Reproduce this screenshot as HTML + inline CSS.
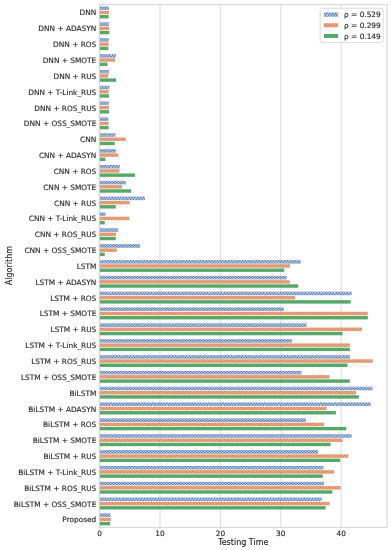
<!DOCTYPE html>
<html><head><meta charset="utf-8"><title>Testing Time</title>
<style>html,body{margin:0;padding:0;background:#fff}svg{display:block}text{stroke:#262626;stroke-width:0.13px;font-family:"DejaVu Sans","Liberation Sans",sans-serif;fill:#262626}</style></head><body>
<svg width="391" height="550" viewBox="0 0 391 550">
<defs>
<clipPath id="cb"><rect x="99.85" y="6.60" width="9.15" height="3.40"/><rect x="99.85" y="22.44" width="9.15" height="3.40"/><rect x="99.85" y="38.28" width="8.75" height="3.40"/><rect x="99.85" y="54.12" width="15.95" height="3.40"/><rect x="99.85" y="69.97" width="9.15" height="3.40"/><rect x="99.85" y="85.81" width="9.45" height="3.40"/><rect x="99.85" y="101.65" width="8.75" height="3.40"/><rect x="99.85" y="117.49" width="8.40" height="3.40"/><rect x="99.85" y="133.33" width="15.55" height="3.40"/><rect x="99.85" y="149.17" width="15.95" height="3.40"/><rect x="99.85" y="165.01" width="19.85" height="3.40"/><rect x="99.85" y="180.85" width="25.95" height="3.40"/><rect x="99.85" y="196.70" width="44.95" height="3.40"/><rect x="99.85" y="212.54" width="5.55" height="3.40"/><rect x="99.85" y="228.38" width="18.35" height="3.40"/><rect x="99.85" y="244.22" width="40.15" height="3.40"/><rect x="99.85" y="260.06" width="200.85" height="3.40"/><rect x="99.85" y="275.90" width="186.75" height="3.40"/><rect x="99.85" y="291.74" width="251.75" height="3.40"/><rect x="99.85" y="307.58" width="184.15" height="3.40"/><rect x="99.85" y="323.42" width="206.55" height="3.40"/><rect x="99.85" y="339.27" width="191.95" height="3.40"/><rect x="99.85" y="355.11" width="249.95" height="3.40"/><rect x="99.85" y="370.95" width="201.55" height="3.40"/><rect x="99.85" y="386.79" width="272.45" height="3.40"/><rect x="99.85" y="402.63" width="270.75" height="3.40"/><rect x="99.85" y="418.47" width="205.95" height="3.40"/><rect x="99.85" y="434.31" width="251.65" height="3.40"/><rect x="99.85" y="450.15" width="218.05" height="3.40"/><rect x="99.85" y="466.00" width="223.45" height="3.40"/><rect x="99.85" y="481.84" width="224.05" height="3.40"/><rect x="99.85" y="497.68" width="221.75" height="3.40"/><rect x="99.85" y="513.52" width="10.55" height="3.40"/></clipPath>
<clipPath id="co"><rect x="99.85" y="10.82" width="9.15" height="3.40"/><rect x="99.85" y="26.66" width="9.15" height="3.40"/><rect x="99.85" y="42.50" width="8.75" height="3.40"/><rect x="99.85" y="58.34" width="15.20" height="3.40"/><rect x="99.85" y="74.19" width="8.40" height="3.40"/><rect x="99.85" y="90.03" width="8.75" height="3.40"/><rect x="99.85" y="105.87" width="9.15" height="3.40"/><rect x="99.85" y="121.71" width="8.75" height="3.40"/><rect x="99.85" y="137.55" width="25.95" height="3.40"/><rect x="99.85" y="153.39" width="18.45" height="3.40"/><rect x="99.85" y="169.23" width="19.50" height="3.40"/><rect x="99.85" y="185.07" width="22.05" height="3.40"/><rect x="99.85" y="200.92" width="29.85" height="3.40"/><rect x="99.85" y="216.76" width="29.55" height="3.40"/><rect x="99.85" y="232.60" width="16.25" height="3.40"/><rect x="99.85" y="248.44" width="16.95" height="3.40"/><rect x="99.85" y="264.28" width="190.15" height="3.40"/><rect x="99.85" y="280.12" width="189.75" height="3.40"/><rect x="99.85" y="295.96" width="195.35" height="3.40"/><rect x="99.85" y="311.80" width="267.95" height="3.40"/><rect x="99.85" y="327.64" width="262.15" height="3.40"/><rect x="99.85" y="343.49" width="249.95" height="3.40"/><rect x="99.85" y="359.33" width="272.95" height="3.40"/><rect x="99.85" y="375.17" width="229.65" height="3.40"/><rect x="99.85" y="391.01" width="256.15" height="3.40"/><rect x="99.85" y="406.85" width="226.65" height="3.40"/><rect x="99.85" y="422.69" width="224.15" height="3.40"/><rect x="99.85" y="438.53" width="242.65" height="3.40"/><rect x="99.85" y="454.37" width="248.45" height="3.40"/><rect x="99.85" y="470.22" width="234.15" height="3.40"/><rect x="99.85" y="486.06" width="240.95" height="3.40"/><rect x="99.85" y="501.90" width="229.65" height="3.40"/><rect x="99.85" y="517.74" width="10.85" height="3.40"/></clipPath>
<clipPath id="lb"><rect x="324.00" y="12.65" width="14.10" height="4.00"/></clipPath>
<clipPath id="lo"><rect x="324.00" y="23.25" width="14.10" height="4.00"/></clipPath>
</defs>
<rect width="391" height="550" fill="#fff"/>
<line x1="99.60" y1="4.60" x2="99.60" y2="527.36" stroke="#cccccc" stroke-width="0.67"/>
<line x1="160.00" y1="4.60" x2="160.00" y2="527.36" stroke="#cccccc" stroke-width="0.67"/>
<line x1="220.40" y1="4.60" x2="220.40" y2="527.36" stroke="#cccccc" stroke-width="0.67"/>
<line x1="280.80" y1="4.60" x2="280.80" y2="527.36" stroke="#cccccc" stroke-width="0.67"/>
<line x1="341.20" y1="4.60" x2="341.20" y2="527.36" stroke="#cccccc" stroke-width="0.67"/>
<g fill="#4c72b0"><rect x="99.85" y="6.60" width="9.15" height="3.40"/><rect x="99.85" y="22.44" width="9.15" height="3.40"/><rect x="99.85" y="38.28" width="8.75" height="3.40"/><rect x="99.85" y="54.12" width="15.95" height="3.40"/><rect x="99.85" y="69.97" width="9.15" height="3.40"/><rect x="99.85" y="85.81" width="9.45" height="3.40"/><rect x="99.85" y="101.65" width="8.75" height="3.40"/><rect x="99.85" y="117.49" width="8.40" height="3.40"/><rect x="99.85" y="133.33" width="15.55" height="3.40"/><rect x="99.85" y="149.17" width="15.95" height="3.40"/><rect x="99.85" y="165.01" width="19.85" height="3.40"/><rect x="99.85" y="180.85" width="25.95" height="3.40"/><rect x="99.85" y="196.70" width="44.95" height="3.40"/><rect x="99.85" y="212.54" width="5.55" height="3.40"/><rect x="99.85" y="228.38" width="18.35" height="3.40"/><rect x="99.85" y="244.22" width="40.15" height="3.40"/><rect x="99.85" y="260.06" width="200.85" height="3.40"/><rect x="99.85" y="275.90" width="186.75" height="3.40"/><rect x="99.85" y="291.74" width="251.75" height="3.40"/><rect x="99.85" y="307.58" width="184.15" height="3.40"/><rect x="99.85" y="323.42" width="206.55" height="3.40"/><rect x="99.85" y="339.27" width="191.95" height="3.40"/><rect x="99.85" y="355.11" width="249.95" height="3.40"/><rect x="99.85" y="370.95" width="201.55" height="3.40"/><rect x="99.85" y="386.79" width="272.45" height="3.40"/><rect x="99.85" y="402.63" width="270.75" height="3.40"/><rect x="99.85" y="418.47" width="205.95" height="3.40"/><rect x="99.85" y="434.31" width="251.65" height="3.40"/><rect x="99.85" y="450.15" width="218.05" height="3.40"/><rect x="99.85" y="466.00" width="223.45" height="3.40"/><rect x="99.85" y="481.84" width="224.05" height="3.40"/><rect x="99.85" y="497.68" width="221.75" height="3.40"/><rect x="99.85" y="513.52" width="10.55" height="3.40"/></g>
<g fill="#dd8452"><rect x="99.85" y="10.82" width="9.15" height="3.40"/><rect x="99.85" y="26.66" width="9.15" height="3.40"/><rect x="99.85" y="42.50" width="8.75" height="3.40"/><rect x="99.85" y="58.34" width="15.20" height="3.40"/><rect x="99.85" y="74.19" width="8.40" height="3.40"/><rect x="99.85" y="90.03" width="8.75" height="3.40"/><rect x="99.85" y="105.87" width="9.15" height="3.40"/><rect x="99.85" y="121.71" width="8.75" height="3.40"/><rect x="99.85" y="137.55" width="25.95" height="3.40"/><rect x="99.85" y="153.39" width="18.45" height="3.40"/><rect x="99.85" y="169.23" width="19.50" height="3.40"/><rect x="99.85" y="185.07" width="22.05" height="3.40"/><rect x="99.85" y="200.92" width="29.85" height="3.40"/><rect x="99.85" y="216.76" width="29.55" height="3.40"/><rect x="99.85" y="232.60" width="16.25" height="3.40"/><rect x="99.85" y="248.44" width="16.95" height="3.40"/><rect x="99.85" y="264.28" width="190.15" height="3.40"/><rect x="99.85" y="280.12" width="189.75" height="3.40"/><rect x="99.85" y="295.96" width="195.35" height="3.40"/><rect x="99.85" y="311.80" width="267.95" height="3.40"/><rect x="99.85" y="327.64" width="262.15" height="3.40"/><rect x="99.85" y="343.49" width="249.95" height="3.40"/><rect x="99.85" y="359.33" width="272.95" height="3.40"/><rect x="99.85" y="375.17" width="229.65" height="3.40"/><rect x="99.85" y="391.01" width="256.15" height="3.40"/><rect x="99.85" y="406.85" width="226.65" height="3.40"/><rect x="99.85" y="422.69" width="224.15" height="3.40"/><rect x="99.85" y="438.53" width="242.65" height="3.40"/><rect x="99.85" y="454.37" width="248.45" height="3.40"/><rect x="99.85" y="470.22" width="234.15" height="3.40"/><rect x="99.85" y="486.06" width="240.95" height="3.40"/><rect x="99.85" y="501.90" width="229.65" height="3.40"/><rect x="99.85" y="517.74" width="10.85" height="3.40"/></g>
<g fill="#55a868"><rect x="99.85" y="15.04" width="8.75" height="3.40"/><rect x="99.85" y="30.88" width="9.45" height="3.40"/><rect x="99.85" y="46.72" width="8.40" height="3.40"/><rect x="99.85" y="62.56" width="7.65" height="3.40"/><rect x="99.85" y="78.41" width="16.25" height="3.40"/><rect x="99.85" y="94.25" width="9.15" height="3.40"/><rect x="99.85" y="110.09" width="9.15" height="3.40"/><rect x="99.85" y="125.93" width="8.75" height="3.40"/><rect x="99.85" y="141.77" width="14.85" height="3.40"/><rect x="99.85" y="157.61" width="5.55" height="3.40"/><rect x="99.85" y="173.45" width="35.25" height="3.40"/><rect x="99.85" y="189.29" width="31.35" height="3.40"/><rect x="99.85" y="205.14" width="15.95" height="3.40"/><rect x="99.85" y="220.98" width="4.85" height="3.40"/><rect x="99.85" y="236.82" width="15.95" height="3.40"/><rect x="99.85" y="252.66" width="4.85" height="3.40"/><rect x="99.85" y="268.50" width="184.35" height="3.40"/><rect x="99.85" y="284.34" width="198.45" height="3.40"/><rect x="99.85" y="300.18" width="250.85" height="3.40"/><rect x="99.85" y="316.02" width="267.95" height="3.40"/><rect x="99.85" y="331.86" width="242.65" height="3.40"/><rect x="99.85" y="347.71" width="249.95" height="3.40"/><rect x="99.85" y="363.55" width="247.65" height="3.40"/><rect x="99.85" y="379.39" width="249.95" height="3.40"/><rect x="99.85" y="395.23" width="258.95" height="3.40"/><rect x="99.85" y="411.07" width="236.05" height="3.40"/><rect x="99.85" y="426.91" width="246.35" height="3.40"/><rect x="99.85" y="442.75" width="230.75" height="3.40"/><rect x="99.85" y="458.59" width="240.35" height="3.40"/><rect x="99.85" y="474.44" width="222.95" height="3.40"/><rect x="99.85" y="490.28" width="232.45" height="3.40"/><rect x="99.85" y="506.12" width="225.75" height="3.40"/><rect x="99.85" y="521.96" width="10.25" height="3.40"/></g>
<g clip-path="url(#cb)"><path d="M-439.60 0.0L90.40 530.0M-436.80 0.0L93.20 530.0M-434.00 0.0L96.00 530.0M-431.20 0.0L98.80 530.0M-428.40 0.0L101.60 530.0M-425.60 0.0L104.40 530.0M-422.80 0.0L107.20 530.0M-420.00 0.0L110.00 530.0M-417.20 0.0L112.80 530.0M-414.40 0.0L115.60 530.0M-411.60 0.0L118.40 530.0M-408.80 0.0L121.20 530.0M-406.00 0.0L124.00 530.0M-403.20 0.0L126.80 530.0M-400.40 0.0L129.60 530.0M-397.60 0.0L132.40 530.0M-394.80 0.0L135.20 530.0M-392.00 0.0L138.00 530.0M-389.20 0.0L140.80 530.0M-386.40 0.0L143.60 530.0M-383.60 0.0L146.40 530.0M-380.80 0.0L149.20 530.0M-378.00 0.0L152.00 530.0M-375.20 0.0L154.80 530.0M-372.40 0.0L157.60 530.0M-369.60 0.0L160.40 530.0M-366.80 0.0L163.20 530.0M-364.00 0.0L166.00 530.0M-361.20 0.0L168.80 530.0M-358.40 0.0L171.60 530.0M-355.60 0.0L174.40 530.0M-352.80 0.0L177.20 530.0M-350.00 0.0L180.00 530.0M-347.20 0.0L182.80 530.0M-344.40 0.0L185.60 530.0M-341.60 0.0L188.40 530.0M-338.80 0.0L191.20 530.0M-336.00 0.0L194.00 530.0M-333.20 0.0L196.80 530.0M-330.40 0.0L199.60 530.0M-327.60 0.0L202.40 530.0M-324.80 0.0L205.20 530.0M-322.00 0.0L208.00 530.0M-319.20 0.0L210.80 530.0M-316.40 0.0L213.60 530.0M-313.60 0.0L216.40 530.0M-310.80 0.0L219.20 530.0M-308.00 0.0L222.00 530.0M-305.20 0.0L224.80 530.0M-302.40 0.0L227.60 530.0M-299.60 0.0L230.40 530.0M-296.80 0.0L233.20 530.0M-294.00 0.0L236.00 530.0M-291.20 0.0L238.80 530.0M-288.40 0.0L241.60 530.0M-285.60 0.0L244.40 530.0M-282.80 0.0L247.20 530.0M-280.00 0.0L250.00 530.0M-277.20 0.0L252.80 530.0M-274.40 0.0L255.60 530.0M-271.60 0.0L258.40 530.0M-268.80 0.0L261.20 530.0M-266.00 0.0L264.00 530.0M-263.20 0.0L266.80 530.0M-260.40 0.0L269.60 530.0M-257.60 0.0L272.40 530.0M-254.80 0.0L275.20 530.0M-252.00 0.0L278.00 530.0M-249.20 0.0L280.80 530.0M-246.40 0.0L283.60 530.0M-243.60 0.0L286.40 530.0M-240.80 0.0L289.20 530.0M-238.00 0.0L292.00 530.0M-235.20 0.0L294.80 530.0M-232.40 0.0L297.60 530.0M-229.60 0.0L300.40 530.0M-226.80 0.0L303.20 530.0M-224.00 0.0L306.00 530.0M-221.20 0.0L308.80 530.0M-218.40 0.0L311.60 530.0M-215.60 0.0L314.40 530.0M-212.80 0.0L317.20 530.0M-210.00 0.0L320.00 530.0M-207.20 0.0L322.80 530.0M-204.40 0.0L325.60 530.0M-201.60 0.0L328.40 530.0M-198.80 0.0L331.20 530.0M-196.00 0.0L334.00 530.0M-193.20 0.0L336.80 530.0M-190.40 0.0L339.60 530.0M-187.60 0.0L342.40 530.0M-184.80 0.0L345.20 530.0M-182.00 0.0L348.00 530.0M-179.20 0.0L350.80 530.0M-176.40 0.0L353.60 530.0M-173.60 0.0L356.40 530.0M-170.80 0.0L359.20 530.0M-168.00 0.0L362.00 530.0M-165.20 0.0L364.80 530.0M-162.40 0.0L367.60 530.0M-159.60 0.0L370.40 530.0M-156.80 0.0L373.20 530.0M-154.00 0.0L376.00 530.0M-151.20 0.0L378.80 530.0M-148.40 0.0L381.60 530.0M-145.60 0.0L384.40 530.0M-142.80 0.0L387.20 530.0M-140.00 0.0L390.00 530.0M-137.20 0.0L392.80 530.0M-134.40 0.0L395.60 530.0M-131.60 0.0L398.40 530.0M-128.80 0.0L401.20 530.0M-126.00 0.0L404.00 530.0M-123.20 0.0L406.80 530.0M-120.40 0.0L409.60 530.0M-117.60 0.0L412.40 530.0M-114.80 0.0L415.20 530.0M-112.00 0.0L418.00 530.0M-109.20 0.0L420.80 530.0M-106.40 0.0L423.60 530.0M-103.60 0.0L426.40 530.0M-100.80 0.0L429.20 530.0M-98.00 0.0L432.00 530.0M-95.20 0.0L434.80 530.0M-92.40 0.0L437.60 530.0M-89.60 0.0L440.40 530.0M-86.80 0.0L443.20 530.0M-84.00 0.0L446.00 530.0M-81.20 0.0L448.80 530.0M-78.40 0.0L451.60 530.0M-75.60 0.0L454.40 530.0M-72.80 0.0L457.20 530.0M-70.00 0.0L460.00 530.0M-67.20 0.0L462.80 530.0M-64.40 0.0L465.60 530.0M-61.60 0.0L468.40 530.0M-58.80 0.0L471.20 530.0M-56.00 0.0L474.00 530.0M-53.20 0.0L476.80 530.0M-50.40 0.0L479.60 530.0M-47.60 0.0L482.40 530.0M-44.80 0.0L485.20 530.0M-42.00 0.0L488.00 530.0M-39.20 0.0L490.80 530.0M-36.40 0.0L493.60 530.0M-33.60 0.0L496.40 530.0M-30.80 0.0L499.20 530.0M-28.00 0.0L502.00 530.0M-25.20 0.0L504.80 530.0M-22.40 0.0L507.60 530.0M-19.60 0.0L510.40 530.0M-16.80 0.0L513.20 530.0M-14.00 0.0L516.00 530.0M-11.20 0.0L518.80 530.0M-8.40 0.0L521.60 530.0M-5.60 0.0L524.40 530.0M-2.80 0.0L527.20 530.0M0.00 0.0L530.00 530.0M2.80 0.0L532.80 530.0M5.60 0.0L535.60 530.0M8.40 0.0L538.40 530.0M11.20 0.0L541.20 530.0M14.00 0.0L544.00 530.0M16.80 0.0L546.80 530.0M19.60 0.0L549.60 530.0M22.40 0.0L552.40 530.0M25.20 0.0L555.20 530.0M28.00 0.0L558.00 530.0M30.80 0.0L560.80 530.0M33.60 0.0L563.60 530.0M36.40 0.0L566.40 530.0M39.20 0.0L569.20 530.0M42.00 0.0L572.00 530.0M44.80 0.0L574.80 530.0M47.60 0.0L577.60 530.0M50.40 0.0L580.40 530.0M53.20 0.0L583.20 530.0M56.00 0.0L586.00 530.0M58.80 0.0L588.80 530.0M61.60 0.0L591.60 530.0M64.40 0.0L594.40 530.0M67.20 0.0L597.20 530.0M70.00 0.0L600.00 530.0M72.80 0.0L602.80 530.0M75.60 0.0L605.60 530.0M78.40 0.0L608.40 530.0M81.20 0.0L611.20 530.0M84.00 0.0L614.00 530.0M86.80 0.0L616.80 530.0M89.60 0.0L619.60 530.0M92.40 0.0L622.40 530.0M95.20 0.0L625.20 530.0M98.00 0.0L628.00 530.0M100.80 0.0L630.80 530.0M103.60 0.0L633.60 530.0M106.40 0.0L636.40 530.0M109.20 0.0L639.20 530.0M112.00 0.0L642.00 530.0M114.80 0.0L644.80 530.0M117.60 0.0L647.60 530.0M120.40 0.0L650.40 530.0M123.20 0.0L653.20 530.0M126.00 0.0L656.00 530.0M128.80 0.0L658.80 530.0M131.60 0.0L661.60 530.0M134.40 0.0L664.40 530.0M137.20 0.0L667.20 530.0M140.00 0.0L670.00 530.0M142.80 0.0L672.80 530.0M145.60 0.0L675.60 530.0M148.40 0.0L678.40 530.0M151.20 0.0L681.20 530.0M154.00 0.0L684.00 530.0M156.80 0.0L686.80 530.0M159.60 0.0L689.60 530.0M162.40 0.0L692.40 530.0M165.20 0.0L695.20 530.0M168.00 0.0L698.00 530.0M170.80 0.0L700.80 530.0M173.60 0.0L703.60 530.0M176.40 0.0L706.40 530.0M179.20 0.0L709.20 530.0M182.00 0.0L712.00 530.0M184.80 0.0L714.80 530.0M187.60 0.0L717.60 530.0M190.40 0.0L720.40 530.0M193.20 0.0L723.20 530.0M196.00 0.0L726.00 530.0M198.80 0.0L728.80 530.0M201.60 0.0L731.60 530.0M204.40 0.0L734.40 530.0M207.20 0.0L737.20 530.0M210.00 0.0L740.00 530.0M212.80 0.0L742.80 530.0M215.60 0.0L745.60 530.0M218.40 0.0L748.40 530.0M221.20 0.0L751.20 530.0M224.00 0.0L754.00 530.0M226.80 0.0L756.80 530.0M229.60 0.0L759.60 530.0M232.40 0.0L762.40 530.0M235.20 0.0L765.20 530.0M238.00 0.0L768.00 530.0M240.80 0.0L770.80 530.0M243.60 0.0L773.60 530.0M246.40 0.0L776.40 530.0M249.20 0.0L779.20 530.0M252.00 0.0L782.00 530.0M254.80 0.0L784.80 530.0M257.60 0.0L787.60 530.0M260.40 0.0L790.40 530.0M263.20 0.0L793.20 530.0M266.00 0.0L796.00 530.0M268.80 0.0L798.80 530.0M271.60 0.0L801.60 530.0M274.40 0.0L804.40 530.0M277.20 0.0L807.20 530.0M280.00 0.0L810.00 530.0M282.80 0.0L812.80 530.0M285.60 0.0L815.60 530.0M288.40 0.0L818.40 530.0M291.20 0.0L821.20 530.0M294.00 0.0L824.00 530.0M296.80 0.0L826.80 530.0M299.60 0.0L829.60 530.0M302.40 0.0L832.40 530.0M305.20 0.0L835.20 530.0M308.00 0.0L838.00 530.0M310.80 0.0L840.80 530.0M313.60 0.0L843.60 530.0M316.40 0.0L846.40 530.0M319.20 0.0L849.20 530.0M322.00 0.0L852.00 530.0M324.80 0.0L854.80 530.0M327.60 0.0L857.60 530.0M330.40 0.0L860.40 530.0M333.20 0.0L863.20 530.0M336.00 0.0L866.00 530.0M338.80 0.0L868.80 530.0M341.60 0.0L871.60 530.0M344.40 0.0L874.40 530.0M347.20 0.0L877.20 530.0M350.00 0.0L880.00 530.0M352.80 0.0L882.80 530.0M355.60 0.0L885.60 530.0M358.40 0.0L888.40 530.0M361.20 0.0L891.20 530.0M364.00 0.0L894.00 530.0M366.80 0.0L896.80 530.0M369.60 0.0L899.60 530.0M372.40 0.0L902.40 530.0M375.20 0.0L905.20 530.0M378.00 0.0L908.00 530.0M380.80 0.0L910.80 530.0M383.60 0.0L913.60 530.0M386.40 0.0L916.40 530.0M389.20 0.0L919.20 530.0M392.00 0.0L922.00 530.0M394.80 0.0L924.80 530.0M397.60 0.0L927.60 530.0M400.40 0.0L930.40 530.0M403.20 0.0L933.20 530.0M406.00 0.0L936.00 530.0M408.80 0.0L938.80 530.0M411.60 0.0L941.60 530.0M414.40 0.0L944.40 530.0M417.20 0.0L947.20 530.0M420.00 0.0L950.00 530.0M422.80 0.0L952.80 530.0M425.60 0.0L955.60 530.0M428.40 0.0L958.40 530.0M431.20 0.0L961.20 530.0M434.00 0.0L964.00 530.0M436.80 0.0L966.80 530.0M439.60 0.0L969.60 530.0M442.40 0.0L972.40 530.0M445.20 0.0L975.20 530.0M448.00 0.0L978.00 530.0M450.80 0.0L980.80 530.0M453.60 0.0L983.60 530.0M456.40 0.0L986.40 530.0M459.20 0.0L989.20 530.0M462.00 0.0L992.00 530.0M464.80 0.0L994.80 530.0M467.60 0.0L997.60 530.0M470.40 0.0L1000.40 530.0M473.20 0.0L1003.20 530.0M476.00 0.0L1006.00 530.0M478.80 0.0L1008.80 530.0M481.60 0.0L1011.60 530.0M484.40 0.0L1014.40 530.0M487.20 0.0L1017.20 530.0M490.00 0.0L1020.00 530.0M492.80 0.0L1022.80 530.0M495.60 0.0L1025.60 530.0M498.40 0.0L1028.40 530.0M501.20 0.0L1031.20 530.0M504.00 0.0L1034.00 530.0M506.80 0.0L1036.80 530.0M509.60 0.0L1039.60 530.0M512.40 0.0L1042.40 530.0M515.20 0.0L1045.20 530.0M518.00 0.0L1048.00 530.0M520.80 0.0L1050.80 530.0M523.60 0.0L1053.60 530.0M526.40 0.0L1056.40 530.0M529.20 0.0L1059.20 530.0M532.00 0.0L1062.00 530.0M534.80 0.0L1064.80 530.0M537.60 0.0L1067.60 530.0M540.40 0.0L1070.40 530.0M543.20 0.0L1073.20 530.0M546.00 0.0L1076.00 530.0M548.80 0.0L1078.80 530.0M551.60 0.0L1081.60 530.0M554.40 0.0L1084.40 530.0M557.20 0.0L1087.20 530.0M560.00 0.0L1090.00 530.0M562.80 0.0L1092.80 530.0M565.60 0.0L1095.60 530.0M568.40 0.0L1098.40 530.0M571.20 0.0L1101.20 530.0M574.00 0.0L1104.00 530.0M576.80 0.0L1106.80 530.0M579.60 0.0L1109.60 530.0M582.40 0.0L1112.40 530.0M585.20 0.0L1115.20 530.0M588.00 0.0L1118.00 530.0M590.80 0.0L1120.80 530.0M593.60 0.0L1123.60 530.0M596.40 0.0L1126.40 530.0M599.20 0.0L1129.20 530.0M602.00 0.0L1132.00 530.0M604.80 0.0L1134.80 530.0M607.60 0.0L1137.60 530.0M610.40 0.0L1140.40 530.0M613.20 0.0L1143.20 530.0M616.00 0.0L1146.00 530.0M618.80 0.0L1148.80 530.0M621.60 0.0L1151.60 530.0M624.40 0.0L1154.40 530.0M627.20 0.0L1157.20 530.0M630.00 0.0L1160.00 530.0M632.80 0.0L1162.80 530.0M635.60 0.0L1165.60 530.0M638.40 0.0L1168.40 530.0M641.20 0.0L1171.20 530.0M644.00 0.0L1174.00 530.0M646.80 0.0L1176.80 530.0M649.60 0.0L1179.60 530.0M652.40 0.0L1182.40 530.0M655.20 0.0L1185.20 530.0M658.00 0.0L1188.00 530.0M660.80 0.0L1190.80 530.0M663.60 0.0L1193.60 530.0M666.40 0.0L1196.40 530.0M669.20 0.0L1199.20 530.0M672.00 0.0L1202.00 530.0M674.80 0.0L1204.80 530.0M677.60 0.0L1207.60 530.0M680.40 0.0L1210.40 530.0M683.20 0.0L1213.20 530.0M686.00 0.0L1216.00 530.0M688.80 0.0L1218.80 530.0M691.60 0.0L1221.60 530.0M694.40 0.0L1224.40 530.0M697.20 0.0L1227.20 530.0M700.00 0.0L1230.00 530.0M702.80 0.0L1232.80 530.0M705.60 0.0L1235.60 530.0M708.40 0.0L1238.40 530.0M711.20 0.0L1241.20 530.0M714.00 0.0L1244.00 530.0M716.80 0.0L1246.80 530.0M719.60 0.0L1249.60 530.0M722.40 0.0L1252.40 530.0M725.20 0.0L1255.20 530.0M728.00 0.0L1258.00 530.0M730.80 0.0L1260.80 530.0M733.60 0.0L1263.60 530.0M736.40 0.0L1266.40 530.0M739.20 0.0L1269.20 530.0M742.00 0.0L1272.00 530.0M744.80 0.0L1274.80 530.0M747.60 0.0L1277.60 530.0M750.40 0.0L1280.40 530.0M753.20 0.0L1283.20 530.0M756.00 0.0L1286.00 530.0M758.80 0.0L1288.80 530.0M761.60 0.0L1291.60 530.0M764.40 0.0L1294.40 530.0M767.20 0.0L1297.20 530.0M770.00 0.0L1300.00 530.0M772.80 0.0L1302.80 530.0M775.60 0.0L1305.60 530.0M778.40 0.0L1308.40 530.0M781.20 0.0L1311.20 530.0M784.00 0.0L1314.00 530.0M786.80 0.0L1316.80 530.0M789.60 0.0L1319.60 530.0M792.40 0.0L1322.40 530.0M795.20 0.0L1325.20 530.0M798.00 0.0L1328.00 530.0M800.80 0.0L1330.80 530.0M803.60 0.0L1333.60 530.0M806.40 0.0L1336.40 530.0M809.20 0.0L1339.20 530.0M812.00 0.0L1342.00 530.0M814.80 0.0L1344.80 530.0M817.60 0.0L1347.60 530.0M820.40 0.0L1350.40 530.0M823.20 0.0L1353.20 530.0M826.00 0.0L1356.00 530.0M828.80 0.0L1358.80 530.0M831.60 0.0L1361.60 530.0M834.40 0.0L1364.40 530.0M837.20 0.0L1367.20 530.0M840.00 0.0L1370.00 530.0M842.80 0.0L1372.80 530.0M845.60 0.0L1375.60 530.0M848.40 0.0L1378.40 530.0M851.20 0.0L1381.20 530.0M854.00 0.0L1384.00 530.0M856.80 0.0L1386.80 530.0M859.60 0.0L1389.60 530.0M862.40 0.0L1392.40 530.0M865.20 0.0L1395.20 530.0M868.00 0.0L1398.00 530.0M870.80 0.0L1400.80 530.0M873.60 0.0L1403.60 530.0M876.40 0.0L1406.40 530.0M879.20 0.0L1409.20 530.0M882.00 0.0L1412.00 530.0M884.80 0.0L1414.80 530.0M887.60 0.0L1417.60 530.0M890.40 0.0L1420.40 530.0M893.20 0.0L1423.20 530.0M896.00 0.0L1426.00 530.0M898.80 0.0L1428.80 530.0M901.60 0.0L1431.60 530.0M904.40 0.0L1434.40 530.0M907.20 0.0L1437.20 530.0M910.00 0.0L1440.00 530.0M912.80 0.0L1442.80 530.0M915.60 0.0L1445.60 530.0M918.40 0.0L1448.40 530.0M921.20 0.0L1451.20 530.0M924.00 0.0L1454.00 530.0M-439.60 530.0L90.40 0.0M-436.80 530.0L93.20 0.0M-434.00 530.0L96.00 0.0M-431.20 530.0L98.80 0.0M-428.40 530.0L101.60 0.0M-425.60 530.0L104.40 0.0M-422.80 530.0L107.20 0.0M-420.00 530.0L110.00 0.0M-417.20 530.0L112.80 0.0M-414.40 530.0L115.60 0.0M-411.60 530.0L118.40 0.0M-408.80 530.0L121.20 0.0M-406.00 530.0L124.00 0.0M-403.20 530.0L126.80 0.0M-400.40 530.0L129.60 0.0M-397.60 530.0L132.40 0.0M-394.80 530.0L135.20 0.0M-392.00 530.0L138.00 0.0M-389.20 530.0L140.80 0.0M-386.40 530.0L143.60 0.0M-383.60 530.0L146.40 0.0M-380.80 530.0L149.20 0.0M-378.00 530.0L152.00 0.0M-375.20 530.0L154.80 0.0M-372.40 530.0L157.60 0.0M-369.60 530.0L160.40 0.0M-366.80 530.0L163.20 0.0M-364.00 530.0L166.00 0.0M-361.20 530.0L168.80 0.0M-358.40 530.0L171.60 0.0M-355.60 530.0L174.40 0.0M-352.80 530.0L177.20 0.0M-350.00 530.0L180.00 0.0M-347.20 530.0L182.80 0.0M-344.40 530.0L185.60 0.0M-341.60 530.0L188.40 0.0M-338.80 530.0L191.20 0.0M-336.00 530.0L194.00 0.0M-333.20 530.0L196.80 0.0M-330.40 530.0L199.60 0.0M-327.60 530.0L202.40 0.0M-324.80 530.0L205.20 0.0M-322.00 530.0L208.00 0.0M-319.20 530.0L210.80 0.0M-316.40 530.0L213.60 0.0M-313.60 530.0L216.40 0.0M-310.80 530.0L219.20 0.0M-308.00 530.0L222.00 0.0M-305.20 530.0L224.80 0.0M-302.40 530.0L227.60 0.0M-299.60 530.0L230.40 0.0M-296.80 530.0L233.20 0.0M-294.00 530.0L236.00 0.0M-291.20 530.0L238.80 0.0M-288.40 530.0L241.60 0.0M-285.60 530.0L244.40 0.0M-282.80 530.0L247.20 0.0M-280.00 530.0L250.00 0.0M-277.20 530.0L252.80 0.0M-274.40 530.0L255.60 0.0M-271.60 530.0L258.40 0.0M-268.80 530.0L261.20 0.0M-266.00 530.0L264.00 0.0M-263.20 530.0L266.80 0.0M-260.40 530.0L269.60 0.0M-257.60 530.0L272.40 0.0M-254.80 530.0L275.20 0.0M-252.00 530.0L278.00 0.0M-249.20 530.0L280.80 0.0M-246.40 530.0L283.60 0.0M-243.60 530.0L286.40 0.0M-240.80 530.0L289.20 0.0M-238.00 530.0L292.00 0.0M-235.20 530.0L294.80 0.0M-232.40 530.0L297.60 0.0M-229.60 530.0L300.40 0.0M-226.80 530.0L303.20 0.0M-224.00 530.0L306.00 0.0M-221.20 530.0L308.80 0.0M-218.40 530.0L311.60 0.0M-215.60 530.0L314.40 0.0M-212.80 530.0L317.20 0.0M-210.00 530.0L320.00 0.0M-207.20 530.0L322.80 0.0M-204.40 530.0L325.60 0.0M-201.60 530.0L328.40 0.0M-198.80 530.0L331.20 0.0M-196.00 530.0L334.00 0.0M-193.20 530.0L336.80 0.0M-190.40 530.0L339.60 0.0M-187.60 530.0L342.40 0.0M-184.80 530.0L345.20 0.0M-182.00 530.0L348.00 0.0M-179.20 530.0L350.80 0.0M-176.40 530.0L353.60 0.0M-173.60 530.0L356.40 0.0M-170.80 530.0L359.20 0.0M-168.00 530.0L362.00 0.0M-165.20 530.0L364.80 0.0M-162.40 530.0L367.60 0.0M-159.60 530.0L370.40 0.0M-156.80 530.0L373.20 0.0M-154.00 530.0L376.00 0.0M-151.20 530.0L378.80 0.0M-148.40 530.0L381.60 0.0M-145.60 530.0L384.40 0.0M-142.80 530.0L387.20 0.0M-140.00 530.0L390.00 0.0M-137.20 530.0L392.80 0.0M-134.40 530.0L395.60 0.0M-131.60 530.0L398.40 0.0M-128.80 530.0L401.20 0.0M-126.00 530.0L404.00 0.0M-123.20 530.0L406.80 0.0M-120.40 530.0L409.60 0.0M-117.60 530.0L412.40 0.0M-114.80 530.0L415.20 0.0M-112.00 530.0L418.00 0.0M-109.20 530.0L420.80 0.0M-106.40 530.0L423.60 0.0M-103.60 530.0L426.40 0.0M-100.80 530.0L429.20 0.0M-98.00 530.0L432.00 0.0M-95.20 530.0L434.80 0.0M-92.40 530.0L437.60 0.0M-89.60 530.0L440.40 0.0M-86.80 530.0L443.20 0.0M-84.00 530.0L446.00 0.0M-81.20 530.0L448.80 0.0M-78.40 530.0L451.60 0.0M-75.60 530.0L454.40 0.0M-72.80 530.0L457.20 0.0M-70.00 530.0L460.00 0.0M-67.20 530.0L462.80 0.0M-64.40 530.0L465.60 0.0M-61.60 530.0L468.40 0.0M-58.80 530.0L471.20 0.0M-56.00 530.0L474.00 0.0M-53.20 530.0L476.80 0.0M-50.40 530.0L479.60 0.0M-47.60 530.0L482.40 0.0M-44.80 530.0L485.20 0.0M-42.00 530.0L488.00 0.0M-39.20 530.0L490.80 0.0M-36.40 530.0L493.60 0.0M-33.60 530.0L496.40 0.0M-30.80 530.0L499.20 0.0M-28.00 530.0L502.00 0.0M-25.20 530.0L504.80 0.0M-22.40 530.0L507.60 0.0M-19.60 530.0L510.40 0.0M-16.80 530.0L513.20 0.0M-14.00 530.0L516.00 0.0M-11.20 530.0L518.80 0.0M-8.40 530.0L521.60 0.0M-5.60 530.0L524.40 0.0M-2.80 530.0L527.20 0.0M0.00 530.0L530.00 0.0M2.80 530.0L532.80 0.0M5.60 530.0L535.60 0.0M8.40 530.0L538.40 0.0M11.20 530.0L541.20 0.0M14.00 530.0L544.00 0.0M16.80 530.0L546.80 0.0M19.60 530.0L549.60 0.0M22.40 530.0L552.40 0.0M25.20 530.0L555.20 0.0M28.00 530.0L558.00 0.0M30.80 530.0L560.80 0.0M33.60 530.0L563.60 0.0M36.40 530.0L566.40 0.0M39.20 530.0L569.20 0.0M42.00 530.0L572.00 0.0M44.80 530.0L574.80 0.0M47.60 530.0L577.60 0.0M50.40 530.0L580.40 0.0M53.20 530.0L583.20 0.0M56.00 530.0L586.00 0.0M58.80 530.0L588.80 0.0M61.60 530.0L591.60 0.0M64.40 530.0L594.40 0.0M67.20 530.0L597.20 0.0M70.00 530.0L600.00 0.0M72.80 530.0L602.80 0.0M75.60 530.0L605.60 0.0M78.40 530.0L608.40 0.0M81.20 530.0L611.20 0.0M84.00 530.0L614.00 0.0M86.80 530.0L616.80 0.0M89.60 530.0L619.60 0.0M92.40 530.0L622.40 0.0M95.20 530.0L625.20 0.0M98.00 530.0L628.00 0.0M100.80 530.0L630.80 0.0M103.60 530.0L633.60 0.0M106.40 530.0L636.40 0.0M109.20 530.0L639.20 0.0M112.00 530.0L642.00 0.0M114.80 530.0L644.80 0.0M117.60 530.0L647.60 0.0M120.40 530.0L650.40 0.0M123.20 530.0L653.20 0.0M126.00 530.0L656.00 0.0M128.80 530.0L658.80 0.0M131.60 530.0L661.60 0.0M134.40 530.0L664.40 0.0M137.20 530.0L667.20 0.0M140.00 530.0L670.00 0.0M142.80 530.0L672.80 0.0M145.60 530.0L675.60 0.0M148.40 530.0L678.40 0.0M151.20 530.0L681.20 0.0M154.00 530.0L684.00 0.0M156.80 530.0L686.80 0.0M159.60 530.0L689.60 0.0M162.40 530.0L692.40 0.0M165.20 530.0L695.20 0.0M168.00 530.0L698.00 0.0M170.80 530.0L700.80 0.0M173.60 530.0L703.60 0.0M176.40 530.0L706.40 0.0M179.20 530.0L709.20 0.0M182.00 530.0L712.00 0.0M184.80 530.0L714.80 0.0M187.60 530.0L717.60 0.0M190.40 530.0L720.40 0.0M193.20 530.0L723.20 0.0M196.00 530.0L726.00 0.0M198.80 530.0L728.80 0.0M201.60 530.0L731.60 0.0M204.40 530.0L734.40 0.0M207.20 530.0L737.20 0.0M210.00 530.0L740.00 0.0M212.80 530.0L742.80 0.0M215.60 530.0L745.60 0.0M218.40 530.0L748.40 0.0M221.20 530.0L751.20 0.0M224.00 530.0L754.00 0.0M226.80 530.0L756.80 0.0M229.60 530.0L759.60 0.0M232.40 530.0L762.40 0.0M235.20 530.0L765.20 0.0M238.00 530.0L768.00 0.0M240.80 530.0L770.80 0.0M243.60 530.0L773.60 0.0M246.40 530.0L776.40 0.0M249.20 530.0L779.20 0.0M252.00 530.0L782.00 0.0M254.80 530.0L784.80 0.0M257.60 530.0L787.60 0.0M260.40 530.0L790.40 0.0M263.20 530.0L793.20 0.0M266.00 530.0L796.00 0.0M268.80 530.0L798.80 0.0M271.60 530.0L801.60 0.0M274.40 530.0L804.40 0.0M277.20 530.0L807.20 0.0M280.00 530.0L810.00 0.0M282.80 530.0L812.80 0.0M285.60 530.0L815.60 0.0M288.40 530.0L818.40 0.0M291.20 530.0L821.20 0.0M294.00 530.0L824.00 0.0M296.80 530.0L826.80 0.0M299.60 530.0L829.60 0.0M302.40 530.0L832.40 0.0M305.20 530.0L835.20 0.0M308.00 530.0L838.00 0.0M310.80 530.0L840.80 0.0M313.60 530.0L843.60 0.0M316.40 530.0L846.40 0.0M319.20 530.0L849.20 0.0M322.00 530.0L852.00 0.0M324.80 530.0L854.80 0.0M327.60 530.0L857.60 0.0M330.40 530.0L860.40 0.0M333.20 530.0L863.20 0.0M336.00 530.0L866.00 0.0M338.80 530.0L868.80 0.0M341.60 530.0L871.60 0.0M344.40 530.0L874.40 0.0M347.20 530.0L877.20 0.0M350.00 530.0L880.00 0.0M352.80 530.0L882.80 0.0M355.60 530.0L885.60 0.0M358.40 530.0L888.40 0.0M361.20 530.0L891.20 0.0M364.00 530.0L894.00 0.0M366.80 530.0L896.80 0.0M369.60 530.0L899.60 0.0M372.40 530.0L902.40 0.0M375.20 530.0L905.20 0.0M378.00 530.0L908.00 0.0M380.80 530.0L910.80 0.0M383.60 530.0L913.60 0.0M386.40 530.0L916.40 0.0M389.20 530.0L919.20 0.0M392.00 530.0L922.00 0.0M394.80 530.0L924.80 0.0M397.60 530.0L927.60 0.0M400.40 530.0L930.40 0.0M403.20 530.0L933.20 0.0M406.00 530.0L936.00 0.0M408.80 530.0L938.80 0.0M411.60 530.0L941.60 0.0M414.40 530.0L944.40 0.0M417.20 530.0L947.20 0.0M420.00 530.0L950.00 0.0M422.80 530.0L952.80 0.0M425.60 530.0L955.60 0.0M428.40 530.0L958.40 0.0M431.20 530.0L961.20 0.0M434.00 530.0L964.00 0.0M436.80 530.0L966.80 0.0M439.60 530.0L969.60 0.0M442.40 530.0L972.40 0.0M445.20 530.0L975.20 0.0M448.00 530.0L978.00 0.0M450.80 530.0L980.80 0.0M453.60 530.0L983.60 0.0M456.40 530.0L986.40 0.0M459.20 530.0L989.20 0.0M462.00 530.0L992.00 0.0M464.80 530.0L994.80 0.0M467.60 530.0L997.60 0.0M470.40 530.0L1000.40 0.0M473.20 530.0L1003.20 0.0M476.00 530.0L1006.00 0.0M478.80 530.0L1008.80 0.0M481.60 530.0L1011.60 0.0M484.40 530.0L1014.40 0.0M487.20 530.0L1017.20 0.0M490.00 530.0L1020.00 0.0M492.80 530.0L1022.80 0.0M495.60 530.0L1025.60 0.0M498.40 530.0L1028.40 0.0M501.20 530.0L1031.20 0.0M504.00 530.0L1034.00 0.0M506.80 530.0L1036.80 0.0M509.60 530.0L1039.60 0.0M512.40 530.0L1042.40 0.0M515.20 530.0L1045.20 0.0M518.00 530.0L1048.00 0.0M520.80 530.0L1050.80 0.0M523.60 530.0L1053.60 0.0M526.40 530.0L1056.40 0.0M529.20 530.0L1059.20 0.0M532.00 530.0L1062.00 0.0M534.80 530.0L1064.80 0.0M537.60 530.0L1067.60 0.0M540.40 530.0L1070.40 0.0M543.20 530.0L1073.20 0.0M546.00 530.0L1076.00 0.0M548.80 530.0L1078.80 0.0M551.60 530.0L1081.60 0.0M554.40 530.0L1084.40 0.0M557.20 530.0L1087.20 0.0M560.00 530.0L1090.00 0.0M562.80 530.0L1092.80 0.0M565.60 530.0L1095.60 0.0M568.40 530.0L1098.40 0.0M571.20 530.0L1101.20 0.0M574.00 530.0L1104.00 0.0M576.80 530.0L1106.80 0.0M579.60 530.0L1109.60 0.0M582.40 530.0L1112.40 0.0M585.20 530.0L1115.20 0.0M588.00 530.0L1118.00 0.0M590.80 530.0L1120.80 0.0M593.60 530.0L1123.60 0.0M596.40 530.0L1126.40 0.0M599.20 530.0L1129.20 0.0M602.00 530.0L1132.00 0.0M604.80 530.0L1134.80 0.0M607.60 530.0L1137.60 0.0M610.40 530.0L1140.40 0.0M613.20 530.0L1143.20 0.0M616.00 530.0L1146.00 0.0M618.80 530.0L1148.80 0.0M621.60 530.0L1151.60 0.0M624.40 530.0L1154.40 0.0M627.20 530.0L1157.20 0.0M630.00 530.0L1160.00 0.0M632.80 530.0L1162.80 0.0M635.60 530.0L1165.60 0.0M638.40 530.0L1168.40 0.0M641.20 530.0L1171.20 0.0M644.00 530.0L1174.00 0.0M646.80 530.0L1176.80 0.0M649.60 530.0L1179.60 0.0M652.40 530.0L1182.40 0.0M655.20 530.0L1185.20 0.0M658.00 530.0L1188.00 0.0M660.80 530.0L1190.80 0.0M663.60 530.0L1193.60 0.0M666.40 530.0L1196.40 0.0M669.20 530.0L1199.20 0.0M672.00 530.0L1202.00 0.0M674.80 530.0L1204.80 0.0M677.60 530.0L1207.60 0.0M680.40 530.0L1210.40 0.0M683.20 530.0L1213.20 0.0M686.00 530.0L1216.00 0.0M688.80 530.0L1218.80 0.0M691.60 530.0L1221.60 0.0M694.40 530.0L1224.40 0.0M697.20 530.0L1227.20 0.0M700.00 530.0L1230.00 0.0M702.80 530.0L1232.80 0.0M705.60 530.0L1235.60 0.0M708.40 530.0L1238.40 0.0M711.20 530.0L1241.20 0.0M714.00 530.0L1244.00 0.0M716.80 530.0L1246.80 0.0M719.60 530.0L1249.60 0.0M722.40 530.0L1252.40 0.0M725.20 530.0L1255.20 0.0M728.00 530.0L1258.00 0.0M730.80 530.0L1260.80 0.0M733.60 530.0L1263.60 0.0M736.40 530.0L1266.40 0.0M739.20 530.0L1269.20 0.0M742.00 530.0L1272.00 0.0M744.80 530.0L1274.80 0.0M747.60 530.0L1277.60 0.0M750.40 530.0L1280.40 0.0M753.20 530.0L1283.20 0.0M756.00 530.0L1286.00 0.0M758.80 530.0L1288.80 0.0M761.60 530.0L1291.60 0.0M764.40 530.0L1294.40 0.0M767.20 530.0L1297.20 0.0M770.00 530.0L1300.00 0.0M772.80 530.0L1302.80 0.0M775.60 530.0L1305.60 0.0M778.40 530.0L1308.40 0.0M781.20 530.0L1311.20 0.0M784.00 530.0L1314.00 0.0M786.80 530.0L1316.80 0.0M789.60 530.0L1319.60 0.0M792.40 530.0L1322.40 0.0M795.20 530.0L1325.20 0.0M798.00 530.0L1328.00 0.0M800.80 530.0L1330.80 0.0M803.60 530.0L1333.60 0.0M806.40 530.0L1336.40 0.0M809.20 530.0L1339.20 0.0M812.00 530.0L1342.00 0.0M814.80 530.0L1344.80 0.0M817.60 530.0L1347.60 0.0M820.40 530.0L1350.40 0.0M823.20 530.0L1353.20 0.0M826.00 530.0L1356.00 0.0M828.80 530.0L1358.80 0.0M831.60 530.0L1361.60 0.0M834.40 530.0L1364.40 0.0M837.20 530.0L1367.20 0.0M840.00 530.0L1370.00 0.0M842.80 530.0L1372.80 0.0M845.60 530.0L1375.60 0.0M848.40 530.0L1378.40 0.0M851.20 530.0L1381.20 0.0M854.00 530.0L1384.00 0.0M856.80 530.0L1386.80 0.0M859.60 530.0L1389.60 0.0M862.40 530.0L1392.40 0.0M865.20 530.0L1395.20 0.0M868.00 530.0L1398.00 0.0M870.80 530.0L1400.80 0.0M873.60 530.0L1403.60 0.0M876.40 530.0L1406.40 0.0M879.20 530.0L1409.20 0.0M882.00 530.0L1412.00 0.0M884.80 530.0L1414.80 0.0M887.60 530.0L1417.60 0.0M890.40 530.0L1420.40 0.0M893.20 530.0L1423.20 0.0M896.00 530.0L1426.00 0.0M898.80 530.0L1428.80 0.0M901.60 530.0L1431.60 0.0M904.40 530.0L1434.40 0.0M907.20 530.0L1437.20 0.0M910.00 530.0L1440.00 0.0M912.80 530.0L1442.80 0.0M915.60 530.0L1445.60 0.0M918.40 530.0L1448.40 0.0M921.20 530.0L1451.20 0.0M924.00 530.0L1454.00 0.0" stroke="#fff" stroke-width="0.6" fill="none"/></g>
<g clip-path="url(#co)"><path d="M-439.60 0.0L90.40 530.0M-436.80 0.0L93.20 530.0M-434.00 0.0L96.00 530.0M-431.20 0.0L98.80 530.0M-428.40 0.0L101.60 530.0M-425.60 0.0L104.40 530.0M-422.80 0.0L107.20 530.0M-420.00 0.0L110.00 530.0M-417.20 0.0L112.80 530.0M-414.40 0.0L115.60 530.0M-411.60 0.0L118.40 530.0M-408.80 0.0L121.20 530.0M-406.00 0.0L124.00 530.0M-403.20 0.0L126.80 530.0M-400.40 0.0L129.60 530.0M-397.60 0.0L132.40 530.0M-394.80 0.0L135.20 530.0M-392.00 0.0L138.00 530.0M-389.20 0.0L140.80 530.0M-386.40 0.0L143.60 530.0M-383.60 0.0L146.40 530.0M-380.80 0.0L149.20 530.0M-378.00 0.0L152.00 530.0M-375.20 0.0L154.80 530.0M-372.40 0.0L157.60 530.0M-369.60 0.0L160.40 530.0M-366.80 0.0L163.20 530.0M-364.00 0.0L166.00 530.0M-361.20 0.0L168.80 530.0M-358.40 0.0L171.60 530.0M-355.60 0.0L174.40 530.0M-352.80 0.0L177.20 530.0M-350.00 0.0L180.00 530.0M-347.20 0.0L182.80 530.0M-344.40 0.0L185.60 530.0M-341.60 0.0L188.40 530.0M-338.80 0.0L191.20 530.0M-336.00 0.0L194.00 530.0M-333.20 0.0L196.80 530.0M-330.40 0.0L199.60 530.0M-327.60 0.0L202.40 530.0M-324.80 0.0L205.20 530.0M-322.00 0.0L208.00 530.0M-319.20 0.0L210.80 530.0M-316.40 0.0L213.60 530.0M-313.60 0.0L216.40 530.0M-310.80 0.0L219.20 530.0M-308.00 0.0L222.00 530.0M-305.20 0.0L224.80 530.0M-302.40 0.0L227.60 530.0M-299.60 0.0L230.40 530.0M-296.80 0.0L233.20 530.0M-294.00 0.0L236.00 530.0M-291.20 0.0L238.80 530.0M-288.40 0.0L241.60 530.0M-285.60 0.0L244.40 530.0M-282.80 0.0L247.20 530.0M-280.00 0.0L250.00 530.0M-277.20 0.0L252.80 530.0M-274.40 0.0L255.60 530.0M-271.60 0.0L258.40 530.0M-268.80 0.0L261.20 530.0M-266.00 0.0L264.00 530.0M-263.20 0.0L266.80 530.0M-260.40 0.0L269.60 530.0M-257.60 0.0L272.40 530.0M-254.80 0.0L275.20 530.0M-252.00 0.0L278.00 530.0M-249.20 0.0L280.80 530.0M-246.40 0.0L283.60 530.0M-243.60 0.0L286.40 530.0M-240.80 0.0L289.20 530.0M-238.00 0.0L292.00 530.0M-235.20 0.0L294.80 530.0M-232.40 0.0L297.60 530.0M-229.60 0.0L300.40 530.0M-226.80 0.0L303.20 530.0M-224.00 0.0L306.00 530.0M-221.20 0.0L308.80 530.0M-218.40 0.0L311.60 530.0M-215.60 0.0L314.40 530.0M-212.80 0.0L317.20 530.0M-210.00 0.0L320.00 530.0M-207.20 0.0L322.80 530.0M-204.40 0.0L325.60 530.0M-201.60 0.0L328.40 530.0M-198.80 0.0L331.20 530.0M-196.00 0.0L334.00 530.0M-193.20 0.0L336.80 530.0M-190.40 0.0L339.60 530.0M-187.60 0.0L342.40 530.0M-184.80 0.0L345.20 530.0M-182.00 0.0L348.00 530.0M-179.20 0.0L350.80 530.0M-176.40 0.0L353.60 530.0M-173.60 0.0L356.40 530.0M-170.80 0.0L359.20 530.0M-168.00 0.0L362.00 530.0M-165.20 0.0L364.80 530.0M-162.40 0.0L367.60 530.0M-159.60 0.0L370.40 530.0M-156.80 0.0L373.20 530.0M-154.00 0.0L376.00 530.0M-151.20 0.0L378.80 530.0M-148.40 0.0L381.60 530.0M-145.60 0.0L384.40 530.0M-142.80 0.0L387.20 530.0M-140.00 0.0L390.00 530.0M-137.20 0.0L392.80 530.0M-134.40 0.0L395.60 530.0M-131.60 0.0L398.40 530.0M-128.80 0.0L401.20 530.0M-126.00 0.0L404.00 530.0M-123.20 0.0L406.80 530.0M-120.40 0.0L409.60 530.0M-117.60 0.0L412.40 530.0M-114.80 0.0L415.20 530.0M-112.00 0.0L418.00 530.0M-109.20 0.0L420.80 530.0M-106.40 0.0L423.60 530.0M-103.60 0.0L426.40 530.0M-100.80 0.0L429.20 530.0M-98.00 0.0L432.00 530.0M-95.20 0.0L434.80 530.0M-92.40 0.0L437.60 530.0M-89.60 0.0L440.40 530.0M-86.80 0.0L443.20 530.0M-84.00 0.0L446.00 530.0M-81.20 0.0L448.80 530.0M-78.40 0.0L451.60 530.0M-75.60 0.0L454.40 530.0M-72.80 0.0L457.20 530.0M-70.00 0.0L460.00 530.0M-67.20 0.0L462.80 530.0M-64.40 0.0L465.60 530.0M-61.60 0.0L468.40 530.0M-58.80 0.0L471.20 530.0M-56.00 0.0L474.00 530.0M-53.20 0.0L476.80 530.0M-50.40 0.0L479.60 530.0M-47.60 0.0L482.40 530.0M-44.80 0.0L485.20 530.0M-42.00 0.0L488.00 530.0M-39.20 0.0L490.80 530.0M-36.40 0.0L493.60 530.0M-33.60 0.0L496.40 530.0M-30.80 0.0L499.20 530.0M-28.00 0.0L502.00 530.0M-25.20 0.0L504.80 530.0M-22.40 0.0L507.60 530.0M-19.60 0.0L510.40 530.0M-16.80 0.0L513.20 530.0M-14.00 0.0L516.00 530.0M-11.20 0.0L518.80 530.0M-8.40 0.0L521.60 530.0M-5.60 0.0L524.40 530.0M-2.80 0.0L527.20 530.0M0.00 0.0L530.00 530.0M2.80 0.0L532.80 530.0M5.60 0.0L535.60 530.0M8.40 0.0L538.40 530.0M11.20 0.0L541.20 530.0M14.00 0.0L544.00 530.0M16.80 0.0L546.80 530.0M19.60 0.0L549.60 530.0M22.40 0.0L552.40 530.0M25.20 0.0L555.20 530.0M28.00 0.0L558.00 530.0M30.80 0.0L560.80 530.0M33.60 0.0L563.60 530.0M36.40 0.0L566.40 530.0M39.20 0.0L569.20 530.0M42.00 0.0L572.00 530.0M44.80 0.0L574.80 530.0M47.60 0.0L577.60 530.0M50.40 0.0L580.40 530.0M53.20 0.0L583.20 530.0M56.00 0.0L586.00 530.0M58.80 0.0L588.80 530.0M61.60 0.0L591.60 530.0M64.40 0.0L594.40 530.0M67.20 0.0L597.20 530.0M70.00 0.0L600.00 530.0M72.80 0.0L602.80 530.0M75.60 0.0L605.60 530.0M78.40 0.0L608.40 530.0M81.20 0.0L611.20 530.0M84.00 0.0L614.00 530.0M86.80 0.0L616.80 530.0M89.60 0.0L619.60 530.0M92.40 0.0L622.40 530.0M95.20 0.0L625.20 530.0M98.00 0.0L628.00 530.0M100.80 0.0L630.80 530.0M103.60 0.0L633.60 530.0M106.40 0.0L636.40 530.0M109.20 0.0L639.20 530.0M112.00 0.0L642.00 530.0M114.80 0.0L644.80 530.0M117.60 0.0L647.60 530.0M120.40 0.0L650.40 530.0M123.20 0.0L653.20 530.0M126.00 0.0L656.00 530.0M128.80 0.0L658.80 530.0M131.60 0.0L661.60 530.0M134.40 0.0L664.40 530.0M137.20 0.0L667.20 530.0M140.00 0.0L670.00 530.0M142.80 0.0L672.80 530.0M145.60 0.0L675.60 530.0M148.40 0.0L678.40 530.0M151.20 0.0L681.20 530.0M154.00 0.0L684.00 530.0M156.80 0.0L686.80 530.0M159.60 0.0L689.60 530.0M162.40 0.0L692.40 530.0M165.20 0.0L695.20 530.0M168.00 0.0L698.00 530.0M170.80 0.0L700.80 530.0M173.60 0.0L703.60 530.0M176.40 0.0L706.40 530.0M179.20 0.0L709.20 530.0M182.00 0.0L712.00 530.0M184.80 0.0L714.80 530.0M187.60 0.0L717.60 530.0M190.40 0.0L720.40 530.0M193.20 0.0L723.20 530.0M196.00 0.0L726.00 530.0M198.80 0.0L728.80 530.0M201.60 0.0L731.60 530.0M204.40 0.0L734.40 530.0M207.20 0.0L737.20 530.0M210.00 0.0L740.00 530.0M212.80 0.0L742.80 530.0M215.60 0.0L745.60 530.0M218.40 0.0L748.40 530.0M221.20 0.0L751.20 530.0M224.00 0.0L754.00 530.0M226.80 0.0L756.80 530.0M229.60 0.0L759.60 530.0M232.40 0.0L762.40 530.0M235.20 0.0L765.20 530.0M238.00 0.0L768.00 530.0M240.80 0.0L770.80 530.0M243.60 0.0L773.60 530.0M246.40 0.0L776.40 530.0M249.20 0.0L779.20 530.0M252.00 0.0L782.00 530.0M254.80 0.0L784.80 530.0M257.60 0.0L787.60 530.0M260.40 0.0L790.40 530.0M263.20 0.0L793.20 530.0M266.00 0.0L796.00 530.0M268.80 0.0L798.80 530.0M271.60 0.0L801.60 530.0M274.40 0.0L804.40 530.0M277.20 0.0L807.20 530.0M280.00 0.0L810.00 530.0M282.80 0.0L812.80 530.0M285.60 0.0L815.60 530.0M288.40 0.0L818.40 530.0M291.20 0.0L821.20 530.0M294.00 0.0L824.00 530.0M296.80 0.0L826.80 530.0M299.60 0.0L829.60 530.0M302.40 0.0L832.40 530.0M305.20 0.0L835.20 530.0M308.00 0.0L838.00 530.0M310.80 0.0L840.80 530.0M313.60 0.0L843.60 530.0M316.40 0.0L846.40 530.0M319.20 0.0L849.20 530.0M322.00 0.0L852.00 530.0M324.80 0.0L854.80 530.0M327.60 0.0L857.60 530.0M330.40 0.0L860.40 530.0M333.20 0.0L863.20 530.0M336.00 0.0L866.00 530.0M338.80 0.0L868.80 530.0M341.60 0.0L871.60 530.0M344.40 0.0L874.40 530.0M347.20 0.0L877.20 530.0M350.00 0.0L880.00 530.0M352.80 0.0L882.80 530.0M355.60 0.0L885.60 530.0M358.40 0.0L888.40 530.0M361.20 0.0L891.20 530.0M364.00 0.0L894.00 530.0M366.80 0.0L896.80 530.0M369.60 0.0L899.60 530.0M372.40 0.0L902.40 530.0M375.20 0.0L905.20 530.0M378.00 0.0L908.00 530.0M380.80 0.0L910.80 530.0M383.60 0.0L913.60 530.0M386.40 0.0L916.40 530.0M389.20 0.0L919.20 530.0M392.00 0.0L922.00 530.0M394.80 0.0L924.80 530.0M397.60 0.0L927.60 530.0M400.40 0.0L930.40 530.0M403.20 0.0L933.20 530.0M406.00 0.0L936.00 530.0M408.80 0.0L938.80 530.0M411.60 0.0L941.60 530.0M414.40 0.0L944.40 530.0M417.20 0.0L947.20 530.0M420.00 0.0L950.00 530.0M422.80 0.0L952.80 530.0M425.60 0.0L955.60 530.0M428.40 0.0L958.40 530.0M431.20 0.0L961.20 530.0M434.00 0.0L964.00 530.0M436.80 0.0L966.80 530.0M439.60 0.0L969.60 530.0M442.40 0.0L972.40 530.0M445.20 0.0L975.20 530.0M448.00 0.0L978.00 530.0M450.80 0.0L980.80 530.0M453.60 0.0L983.60 530.0M456.40 0.0L986.40 530.0M459.20 0.0L989.20 530.0M462.00 0.0L992.00 530.0M464.80 0.0L994.80 530.0M467.60 0.0L997.60 530.0M470.40 0.0L1000.40 530.0M473.20 0.0L1003.20 530.0M476.00 0.0L1006.00 530.0M478.80 0.0L1008.80 530.0M481.60 0.0L1011.60 530.0M484.40 0.0L1014.40 530.0M487.20 0.0L1017.20 530.0M490.00 0.0L1020.00 530.0M492.80 0.0L1022.80 530.0M495.60 0.0L1025.60 530.0M498.40 0.0L1028.40 530.0M501.20 0.0L1031.20 530.0M504.00 0.0L1034.00 530.0M506.80 0.0L1036.80 530.0M509.60 0.0L1039.60 530.0M512.40 0.0L1042.40 530.0M515.20 0.0L1045.20 530.0M518.00 0.0L1048.00 530.0M520.80 0.0L1050.80 530.0M523.60 0.0L1053.60 530.0M526.40 0.0L1056.40 530.0M529.20 0.0L1059.20 530.0M532.00 0.0L1062.00 530.0M534.80 0.0L1064.80 530.0M537.60 0.0L1067.60 530.0M540.40 0.0L1070.40 530.0M543.20 0.0L1073.20 530.0M546.00 0.0L1076.00 530.0M548.80 0.0L1078.80 530.0M551.60 0.0L1081.60 530.0M554.40 0.0L1084.40 530.0M557.20 0.0L1087.20 530.0M560.00 0.0L1090.00 530.0M562.80 0.0L1092.80 530.0M565.60 0.0L1095.60 530.0M568.40 0.0L1098.40 530.0M571.20 0.0L1101.20 530.0M574.00 0.0L1104.00 530.0M576.80 0.0L1106.80 530.0M579.60 0.0L1109.60 530.0M582.40 0.0L1112.40 530.0M585.20 0.0L1115.20 530.0M588.00 0.0L1118.00 530.0M590.80 0.0L1120.80 530.0M593.60 0.0L1123.60 530.0M596.40 0.0L1126.40 530.0M599.20 0.0L1129.20 530.0M602.00 0.0L1132.00 530.0M604.80 0.0L1134.80 530.0M607.60 0.0L1137.60 530.0M610.40 0.0L1140.40 530.0M613.20 0.0L1143.20 530.0M616.00 0.0L1146.00 530.0M618.80 0.0L1148.80 530.0M621.60 0.0L1151.60 530.0M624.40 0.0L1154.40 530.0M627.20 0.0L1157.20 530.0M630.00 0.0L1160.00 530.0M632.80 0.0L1162.80 530.0M635.60 0.0L1165.60 530.0M638.40 0.0L1168.40 530.0M641.20 0.0L1171.20 530.0M644.00 0.0L1174.00 530.0M646.80 0.0L1176.80 530.0M649.60 0.0L1179.60 530.0M652.40 0.0L1182.40 530.0M655.20 0.0L1185.20 530.0M658.00 0.0L1188.00 530.0M660.80 0.0L1190.80 530.0M663.60 0.0L1193.60 530.0M666.40 0.0L1196.40 530.0M669.20 0.0L1199.20 530.0M672.00 0.0L1202.00 530.0M674.80 0.0L1204.80 530.0M677.60 0.0L1207.60 530.0M680.40 0.0L1210.40 530.0M683.20 0.0L1213.20 530.0M686.00 0.0L1216.00 530.0M688.80 0.0L1218.80 530.0M691.60 0.0L1221.60 530.0M694.40 0.0L1224.40 530.0M697.20 0.0L1227.20 530.0M700.00 0.0L1230.00 530.0M702.80 0.0L1232.80 530.0M705.60 0.0L1235.60 530.0M708.40 0.0L1238.40 530.0M711.20 0.0L1241.20 530.0M714.00 0.0L1244.00 530.0M716.80 0.0L1246.80 530.0M719.60 0.0L1249.60 530.0M722.40 0.0L1252.40 530.0M725.20 0.0L1255.20 530.0M728.00 0.0L1258.00 530.0M730.80 0.0L1260.80 530.0M733.60 0.0L1263.60 530.0M736.40 0.0L1266.40 530.0M739.20 0.0L1269.20 530.0M742.00 0.0L1272.00 530.0M744.80 0.0L1274.80 530.0M747.60 0.0L1277.60 530.0M750.40 0.0L1280.40 530.0M753.20 0.0L1283.20 530.0M756.00 0.0L1286.00 530.0M758.80 0.0L1288.80 530.0M761.60 0.0L1291.60 530.0M764.40 0.0L1294.40 530.0M767.20 0.0L1297.20 530.0M770.00 0.0L1300.00 530.0M772.80 0.0L1302.80 530.0M775.60 0.0L1305.60 530.0M778.40 0.0L1308.40 530.0M781.20 0.0L1311.20 530.0M784.00 0.0L1314.00 530.0M786.80 0.0L1316.80 530.0M789.60 0.0L1319.60 530.0M792.40 0.0L1322.40 530.0M795.20 0.0L1325.20 530.0M798.00 0.0L1328.00 530.0M800.80 0.0L1330.80 530.0M803.60 0.0L1333.60 530.0M806.40 0.0L1336.40 530.0M809.20 0.0L1339.20 530.0M812.00 0.0L1342.00 530.0M814.80 0.0L1344.80 530.0M817.60 0.0L1347.60 530.0M820.40 0.0L1350.40 530.0M823.20 0.0L1353.20 530.0M826.00 0.0L1356.00 530.0M828.80 0.0L1358.80 530.0M831.60 0.0L1361.60 530.0M834.40 0.0L1364.40 530.0M837.20 0.0L1367.20 530.0M840.00 0.0L1370.00 530.0M842.80 0.0L1372.80 530.0M845.60 0.0L1375.60 530.0M848.40 0.0L1378.40 530.0M851.20 0.0L1381.20 530.0M854.00 0.0L1384.00 530.0M856.80 0.0L1386.80 530.0M859.60 0.0L1389.60 530.0M862.40 0.0L1392.40 530.0M865.20 0.0L1395.20 530.0M868.00 0.0L1398.00 530.0M870.80 0.0L1400.80 530.0M873.60 0.0L1403.60 530.0M876.40 0.0L1406.40 530.0M879.20 0.0L1409.20 530.0M882.00 0.0L1412.00 530.0M884.80 0.0L1414.80 530.0M887.60 0.0L1417.60 530.0M890.40 0.0L1420.40 530.0M893.20 0.0L1423.20 530.0M896.00 0.0L1426.00 530.0M898.80 0.0L1428.80 530.0M901.60 0.0L1431.60 530.0M904.40 0.0L1434.40 530.0M907.20 0.0L1437.20 530.0M910.00 0.0L1440.00 530.0M912.80 0.0L1442.80 530.0M915.60 0.0L1445.60 530.0M918.40 0.0L1448.40 530.0M921.20 0.0L1451.20 530.0M924.00 0.0L1454.00 530.0" stroke="#fff" stroke-width="0.55" fill="none"/></g>
<path d="M99.35 4.60H387.00V527.36H99.35" fill="none" stroke="#cccccc" stroke-width="0.83" stroke-linecap="square"/>
<line x1="99.35" y1="4.60" x2="99.35" y2="527.36" stroke="#cccccc" stroke-width="0.7"/>
<g font-size="7.38" text-anchor="end">
<text x="96.3" y="15.47">DNN</text>
<text x="96.3" y="31.31">DNN + ADASYN</text>
<text x="96.3" y="47.15">DNN + ROS</text>
<text x="96.3" y="62.99">DNN + SMOTE</text>
<text x="96.3" y="78.84">DNN + RUS</text>
<text x="96.3" y="94.68">DNN + T-Link_RUS</text>
<text x="96.3" y="110.52">DNN + ROS_RUS</text>
<text x="96.3" y="126.36">DNN + OSS_SMOTE</text>
<text x="96.3" y="142.20">CNN</text>
<text x="96.3" y="158.04">CNN + ADASYN</text>
<text x="96.3" y="173.88">CNN + ROS</text>
<text x="96.3" y="189.72">CNN + SMOTE</text>
<text x="96.3" y="205.57">CNN + RUS</text>
<text x="96.3" y="221.41">CNN + T-Link_RUS</text>
<text x="96.3" y="237.25">CNN + ROS_RUS</text>
<text x="96.3" y="253.09">CNN + OSS_SMOTE</text>
<text x="96.3" y="268.93">LSTM</text>
<text x="96.3" y="284.77">LSTM + ADASYN</text>
<text x="96.3" y="300.61">LSTM + ROS</text>
<text x="96.3" y="316.45">LSTM + SMOTE</text>
<text x="96.3" y="332.29">LSTM + RUS</text>
<text x="96.3" y="348.14">LSTM + T-Link_RUS</text>
<text x="96.3" y="363.98">LSTM + ROS_RUS</text>
<text x="96.3" y="379.82">LSTM + OSS_SMOTE</text>
<text x="96.3" y="395.66">BiLSTM</text>
<text x="96.3" y="411.50">BiLSTM + ADASYN</text>
<text x="96.3" y="427.34">BiLSTM + ROS</text>
<text x="96.3" y="443.18">BiLSTM + SMOTE</text>
<text x="96.3" y="459.02">BiLSTM + RUS</text>
<text x="96.3" y="474.87">BiLSTM + T-Link_RUS</text>
<text x="96.3" y="490.71">BiLSTM + ROS_RUS</text>
<text x="96.3" y="506.55">BiLSTM + OSS_SMOTE</text>
<text x="96.3" y="522.39">Proposed</text>
</g>
<g font-size="7.38" text-anchor="middle">
<text x="99.60" y="536.1">0</text>
<text x="160.00" y="536.1">10</text>
<text x="220.40" y="536.1">20</text>
<text x="280.80" y="536.1">30</text>
<text x="341.20" y="536.1">40</text>
</g>
<text x="243.30" y="544.8" font-size="8" text-anchor="middle">Testing Time</text>
<text transform="translate(11.5 265.58) rotate(-90)" font-size="8" text-anchor="middle">Algorithm</text>
<rect x="320.20" y="8.25" width="63.00" height="34.30" rx="1.6" ry="1.6" fill="#fff" fill-opacity="0.8" stroke="#cccccc" stroke-width="0.67"/>
<rect x="324.00" y="12.65" width="14.10" height="4.00" fill="#4c72b0"/>
<rect x="324.00" y="23.25" width="14.10" height="4.00" fill="#dd8452"/>
<rect x="324.00" y="33.95" width="14.10" height="4.00" fill="#55a868"/>
<g clip-path="url(#lb)"><path d="M308.00 10.0L318.00 20.0M310.80 10.0L320.80 20.0M313.60 10.0L323.60 20.0M316.40 10.0L326.40 20.0M319.20 10.0L329.20 20.0M322.00 10.0L332.00 20.0M324.80 10.0L334.80 20.0M327.60 10.0L337.60 20.0M330.40 10.0L340.40 20.0M333.20 10.0L343.20 20.0M336.00 10.0L346.00 20.0M338.80 10.0L348.80 20.0M341.60 10.0L351.60 20.0M344.40 10.0L354.40 20.0M347.20 10.0L357.20 20.0M350.00 10.0L360.00 20.0M308.00 20.0L318.00 10.0M310.80 20.0L320.80 10.0M313.60 20.0L323.60 10.0M316.40 20.0L326.40 10.0M319.20 20.0L329.20 10.0M322.00 20.0L332.00 10.0M324.80 20.0L334.80 10.0M327.60 20.0L337.60 10.0M330.40 20.0L340.40 10.0M333.20 20.0L343.20 10.0M336.00 20.0L346.00 10.0M338.80 20.0L348.80 10.0M341.60 20.0L351.60 10.0M344.40 20.0L354.40 10.0M347.20 20.0L357.20 10.0M350.00 20.0L360.00 10.0" stroke="#fff" stroke-width="0.6" fill="none"/></g>
<g clip-path="url(#lo)"><path d="M308.00 20.0L318.00 30.0M310.80 20.0L320.80 30.0M313.60 20.0L323.60 30.0M316.40 20.0L326.40 30.0M319.20 20.0L329.20 30.0M322.00 20.0L332.00 30.0M324.80 20.0L334.80 30.0M327.60 20.0L337.60 30.0M330.40 20.0L340.40 30.0M333.20 20.0L343.20 30.0M336.00 20.0L346.00 30.0M338.80 20.0L348.80 30.0M341.60 20.0L351.60 30.0M344.40 20.0L354.40 30.0M347.20 20.0L357.20 30.0M350.00 20.0L360.00 30.0" stroke="#fff" stroke-width="0.55" fill="none"/></g>
<g font-size="7.38">
<text x="344.10" y="17.35">ρ = 0.529</text>
<text x="344.10" y="27.95">ρ = 0.299</text>
<text x="344.10" y="38.65">ρ = 0.149</text>
</g>
</svg></body></html>
